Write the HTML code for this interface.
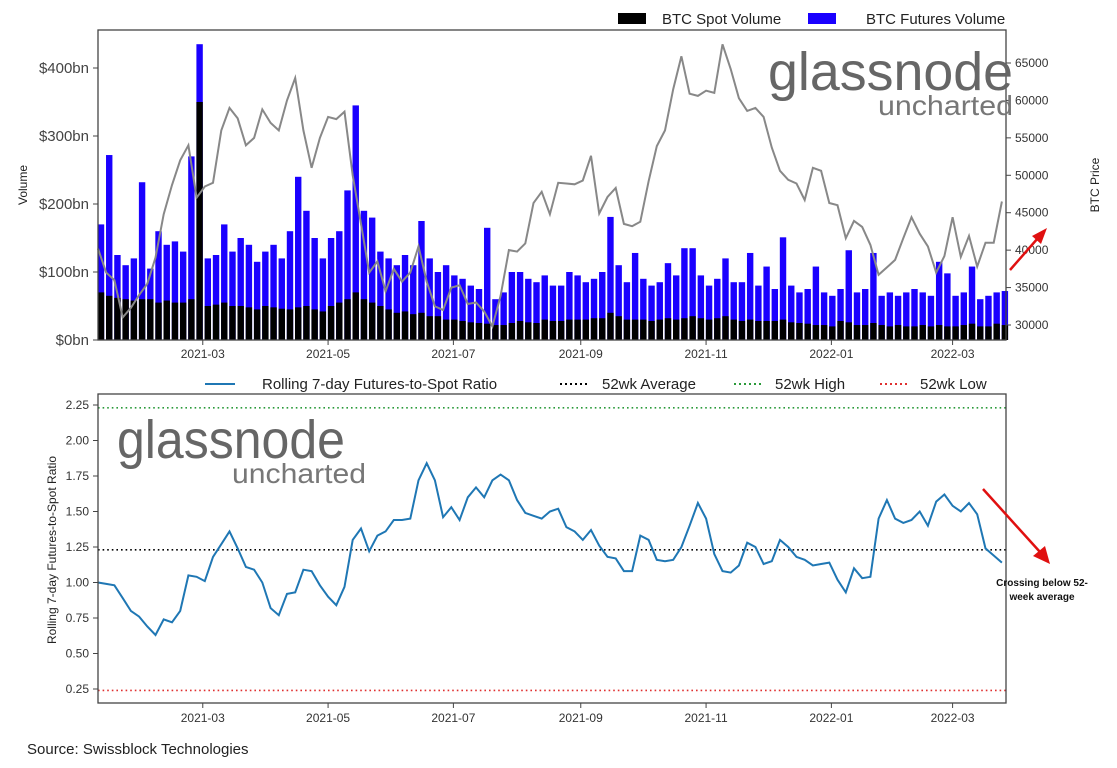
<!DOCTYPE html>
<html><head><meta charset="utf-8">
<style>
body{margin:0;background:#fff;font-family:"Liberation Sans","DejaVu Sans",sans-serif;}
svg{display:block}
</style></head>
<body>
<svg id="chart" width="1117" height="768" viewBox="0 0 1117 768" xmlns="http://www.w3.org/2000/svg" font-family="Liberation Sans, DejaVu Sans, sans-serif">
  <rect width="1117" height="768" fill="#fff"/>
  <g>
    <rect x="618" y="13" width="28" height="11" fill="#000"/>
    <text x="662" y="24" font-size="15" fill="#222">BTC Spot Volume</text>
    <rect x="808" y="13" width="28" height="11" fill="#1a00ff"/>
    <text x="866" y="24" font-size="15" fill="#222">BTC Futures Volume</text>
  </g>
  <g id="topPanel"></g>
  <g id="botPanel"></g>
  <g fill="#666">
    <text x="768" y="90" font-size="54" textLength="245" lengthAdjust="spacingAndGlyphs">glassnode</text>
    <text x="878" y="115" font-size="28" textLength="135" lengthAdjust="spacingAndGlyphs" fill="#777">uncharted</text>
  </g>
  <g fill="#666">
    <text x="117" y="458" font-size="54" textLength="228" lengthAdjust="spacingAndGlyphs">glassnode</text>
    <text x="232" y="483" font-size="28" textLength="134" lengthAdjust="spacingAndGlyphs" fill="#777">uncharted</text>
  </g>
  <g>
    <line x1="1010" y1="270" x2="1038" y2="238" stroke="#e01010" stroke-width="2.5"/>
    <polygon points="1047,228 1032,236 1041,244" fill="#e01010"/>
  </g>
  <g>
    <line x1="983" y1="489" x2="1040" y2="552" stroke="#e01010" stroke-width="2.5"/>
    <polygon points="1050,564 1033,556 1045,546" fill="#e01010"/>
  </g>
  <g font-size="10" font-weight="bold" fill="#111" text-anchor="middle">
    <text x="1042" y="586">Crossing below 52-</text>
    <text x="1042" y="600">week average</text>
  </g>
  <g font-size="15" fill="#222">
    <line x1="205" y1="384" x2="235" y2="384" stroke="#1f77b4" stroke-width="2"/>
    <text x="262" y="389">Rolling 7-day Futures-to-Spot Ratio</text>
    <line x1="560" y1="384" x2="590" y2="384" stroke="#000" stroke-width="2" stroke-dasharray="2,3"/>
    <text x="602" y="389">52wk Average</text>
    <line x1="734" y1="384" x2="762" y2="384" stroke="#2a9a3a" stroke-width="2" stroke-dasharray="2,3"/>
    <text x="775" y="389">52wk High</text>
    <line x1="880" y1="384" x2="908" y2="384" stroke="#e03030" stroke-width="2" stroke-dasharray="2,3"/>
    <text x="920" y="389">52wk Low</text>
  </g>
  <text x="27" y="754" font-size="15" fill="#222">Source: Swissblock Technologies</text>
</svg>
<script>
const startDate = "2021-01-09";
const stepDays = 4;
const totalVolume = [170,272,125,110,120,232,
 105,160,140,145,130,270,435,
 120,125,170,130,150,140,115,130,
 140,120,160,240,190,150,120,
 150,160,220,345,190,180,130,120,
 110,125,110,175,120,100,110,95,
 90,80,75,165,60,70,100,
 100,90,85,95,80,80,100,95,
 85,90,100,181,110,85,128,90,
 80,85,113,95,135,135,95,
 80,90,120,85,85,128,80,108,
 75,151,80,70,75,108,70,65,
 75,132,70,75,128,65,70,
 65,70,75,70,65,115,98,
 65,70,108,60,65,70,72];
const spotVolume = [70,65,62,60,58,60,
 60,55,58,55,55,60,350,
 50,52,55,50,50,48,45,50,
 48,46,45,48,50,45,42,
 50,55,60,70,60,55,50,45,
 40,42,38,40,35,35,30,30,
 28,26,25,24,22,22,25,
 28,26,25,30,28,28,30,30,
 30,32,32,40,35,30,30,30,
 28,30,32,30,32,35,32,
 30,32,35,30,28,30,28,28,
 28,30,26,25,24,22,22,20,
 28,26,22,22,25,22,20,
 22,20,20,22,20,22,20,
 20,22,24,20,20,24,22];
const btcPrice = [40.2,37,36,31,32.3,34,
 35.5,39,44.8,48.7,52,54,47,
 48.5,49,56,59,57.6,54,55,58.8,
 57,56,60,63,56,51,55,
 57.8,57.5,58.5,50,43.5,37,38.5,34.5,
 37.5,35.8,37,40.5,35.8,32.5,32,35,
 35.3,32.8,33,31.8,29.8,33.9,40,
 39.8,40.9,46.3,47.8,44.8,49,48.9,48.8,
 49.3,52.6,44.9,47.1,48.3,43.5,43.2,43.8,
 49.2,53.9,56,61.5,65.9,60.9,60.6,
 61.3,61,67.5,64.2,60.3,58.6,59,57.8,
 53.7,50.6,49.4,48.9,46.7,51,50.6,46.3,
 46,41.6,43.9,43.1,40.7,36.7,37.7,
 38.7,41.6,44.4,42.2,40.5,37,39.2,
 44.4,39.1,41.9,37.8,41,41,46.5];
const ratio = [1.00,0.99,0.98,0.89,0.80,0.76,0.69,0.63,0.74,0.72,
 0.80,1.05,1.04,1.01,1.18,1.27,1.36,1.24,1.11,1.09,
 1.00,0.82,0.77,0.92,0.93,1.09,1.08,0.98,0.90,0.84,
 0.97,1.30,1.38,1.22,1.33,1.36,1.44,1.44,1.45,1.72,
 1.84,1.72,1.46,1.53,1.44,1.60,1.67,1.60,1.72,1.76,
 1.72,1.58,1.49,1.47,1.45,1.50,1.52,1.39,1.36,1.30,
 1.37,1.26,1.18,1.17,1.08,1.08,1.33,1.30,1.16,1.15,
 1.16,1.25,1.40,1.56,1.45,1.20,1.08,1.07,1.12,1.28,
 1.25,1.13,1.15,1.30,1.25,1.18,1.16,1.12,1.13,1.14,
 1.02,0.93,1.10,1.03,1.04,1.45,1.58,1.45,1.42,1.44,
 1.50,1.40,1.57,1.62,1.54,1.50,1.56,1.48,1.24,1.19,1.14];
const ratioAvg = 1.23, ratioHigh = 2.23, ratioLow = 0.24;
const xTickLabels = ["2021-03","2021-05","2021-07","2021-09","2021-11","2022-01","2022-03"];
const volTicks = [0,100,200,300,400];
const priceTicks = [30000,35000,40000,45000,50000,55000,60000,65000];
const ratioTicks = [0.25,0.50,0.75,1.00,1.25,1.50,1.75,2.00,2.25];

const NS="http://www.w3.org/2000/svg";
const L=98,R=1006;
const d0=Date.UTC(2021,0,9), dMax=Date.UTC(2022,2,27);
const spanDays=(dMax-d0)/864e5;
const xDay=d=>L+d/spanDays*(R-L);
const xIdx=i=>xDay(i*stepDays);
const xDate=s=>{const [y,m]=s.split('-').map(Number);return xDay((Date.UTC(y,m-1,1)-d0)/864e5);};
const T1=30,B1=340;
const yVol=v=>B1-v*0.68;
const yPrice=p=>325-(p-30000)/35000*262;
const T2=394,B2=703;
const yRat=v=>405+(2.25-v)*142;
function el(tag,attrs,parent,text){const e=document.createElementNS(NS,tag);for(const k in attrs)e.setAttribute(k,attrs[k]);if(text!==undefined)e.textContent=text;parent.appendChild(e);return e;}

const topG=document.getElementById('topPanel');
const bw=6.4;
totalVolume.forEach((v,i)=>{
  const x=xIdx(i)-bw/2+3;
  const f=el('rect',{x:x,y:yVol(v),width:bw,height:B1-yVol(v),fill:'#1a00ff'},topG);
  
  
  const s=el('rect',{x:x,y:yVol(spotVolume[i]),width:bw,height:B1-yVol(spotVolume[i]),fill:'#000'},topG);
  
  
});
const pp=btcPrice.map((p,i)=>(i?'L':'M')+xIdx(i).toFixed(1)+','+yPrice(p*1000).toFixed(1)).join(' ');
const pl=el('path',{d:pp,fill:'none',stroke:'#888',"stroke-width":2},topG);


el('rect',{x:L,y:T1,width:R-L,height:B1-T1,fill:'none',stroke:'#444',"stroke-width":1.3},topG);
volTicks.forEach(v=>{
  el('line',{x1:L-5,y1:yVol(v),x2:L,y2:yVol(v),stroke:'#444'},topG);
  const t=el('text',{x:L-9,y:yVol(v)+5,"font-size":15,fill:'#444',"text-anchor":'end'},topG,'$'+v+'bn');
  
  
});
priceTicks.forEach(p=>{
  el('line',{x1:R,y1:yPrice(p),x2:R+5,y2:yPrice(p),stroke:'#444'},topG);
  const t=el('text',{x:R+9,y:yPrice(p)+4,"font-size":12,fill:'#333'},topG,String(p));
  
  
});
xTickLabels.forEach(s=>{
  const x=xDate(s);
  el('line',{x1:x,y1:B1,x2:x,y2:B1+5,stroke:'#444'},topG);
  const t=el('text',{x:x,y:B1+18,"font-size":12,fill:'#333',"text-anchor":'middle'},topG,s);
  
  
});
const vt=el('text',{x:0,y:0,"font-size":12,fill:'#222',"text-anchor":'middle',transform:'translate(27,185) rotate(-90)'},topG,'Volume');


const bt=el('text',{x:0,y:0,"font-size":12,fill:'#222',"text-anchor":'middle',transform:'translate(1099,185) rotate(-90)'},topG,'BTC Price');



const botG=document.getElementById('botPanel');
[[ratioHigh,'#2a9a3a','high-line'],[ratioAvg,'#000','average-line'],[ratioLow,'#e03030','low-line']].forEach(([v,c,n])=>{
  const l=el('line',{x1:L,x2:R,y1:yRat(v),y2:yRat(v),stroke:c,"stroke-width":1.6,"stroke-dasharray":'1.6,3'},botG);
  
  
});
const rp=ratio.map((v,i)=>(i?'L':'M')+xIdx(i).toFixed(1)+','+yRat(v).toFixed(1)).join(' ');
const rl=el('path',{d:rp,fill:'none',stroke:'#1f77b4',"stroke-width":2},botG);


el('rect',{x:L,y:T2,width:R-L,height:B2-T2,fill:'none',stroke:'#444',"stroke-width":1.3},botG);
ratioTicks.forEach(v=>{
  el('line',{x1:L-5,y1:yRat(v),x2:L,y2:yRat(v),stroke:'#444'},botG);
  const t=el('text',{x:L-9,y:yRat(v)+4,"font-size":12,fill:'#333',"text-anchor":'end'},botG,v.toFixed(2));
  
  
});
xTickLabels.forEach(s=>{
  const x=xDate(s);
  el('line',{x1:x,y1:B2,x2:x,y2:B2+5,stroke:'#444'},botG);
  const t=el('text',{x:x,y:B2+19,"font-size":12,fill:'#333',"text-anchor":'middle'},botG,s);
  
  
});
const rt=el('text',{x:0,y:0,"font-size":12,fill:'#222',"text-anchor":'middle',transform:'translate(56,550) rotate(-90)'},botG,'Rolling 7-day Futures-to-Spot Ratio');


</script>
</body></html>
